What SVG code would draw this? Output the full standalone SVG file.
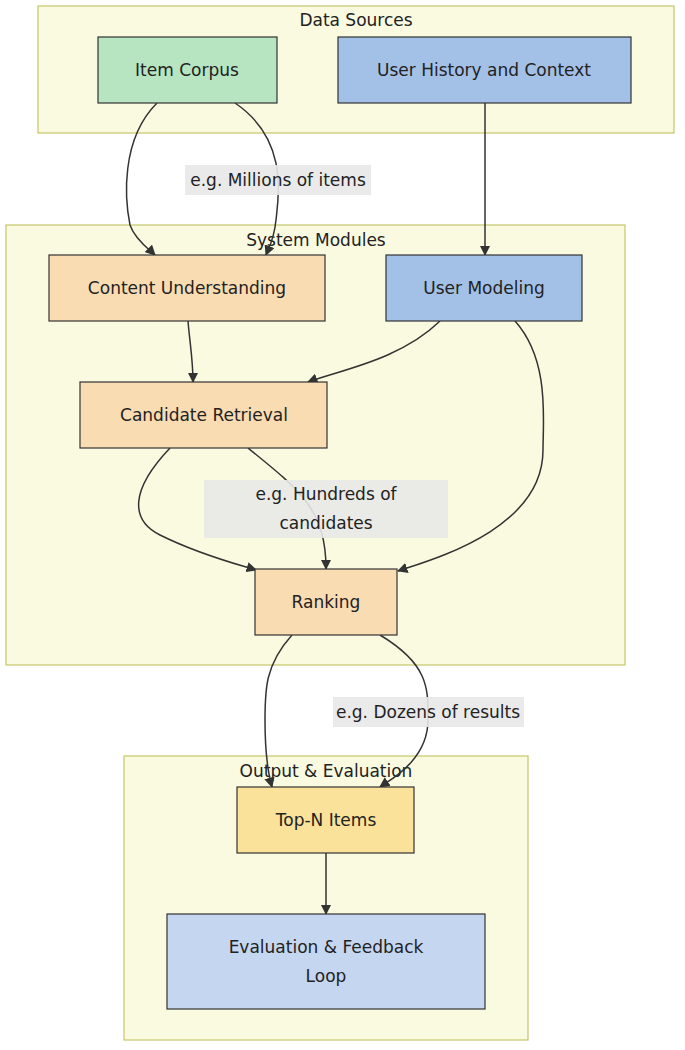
<svg xmlns="http://www.w3.org/2000/svg" width="685" height="1050" viewBox="0 0 685 1050">
<defs>
<style>
.cl{fill:#fafae0;stroke:#c5c56a;stroke-width:1.2}
.n{stroke:#333;stroke-width:1.2}
text{font-family:"DejaVu Sans",sans-serif;font-size:17px;fill:#222;text-anchor:middle;dominant-baseline:central}
.e{fill:none;stroke:#333;stroke-width:1.5;marker-end:url(#a)}
.lb{fill:#e8e8e8;opacity:.9}
</style>
<marker id="a" viewBox="0 0 10 10" refX="9" refY="5" markerWidth="7" markerHeight="7" orient="auto"><path d="M0,0L10,5L0,10z" fill="#333"/></marker>
</defs>
<rect width="685" height="1050" fill="#fff"/>
<g id="clusters">
<rect class="cl" x="38" y="6" width="636" height="127"/><text x="356" y="20">Data Sources</text>
<rect class="cl" x="6" y="225" width="619" height="440"/><text x="316" y="240">System Modules</text>
<rect class="cl" x="124" y="756" width="404" height="284"/><text x="326" y="771">Output &amp; Evaluation</text>
</g>
<g id="connectors">
<path class="e" d="M157,103C120,140 125,200 130,225 C135,240 150,250 155,255"/>
<path class="e" d="M235,103C290,140 278,200 276,220 C274,240 268,250 266,255"/>
<path class="e" d="M485,103L485,255"/>
<path class="e" d="M188,321C190,345 193,360 193,382"/>
<path class="e" d="M440,321C400,360 340,370 308,382"/>
<path class="e" d="M515,321C550,360 543,420 543,450 C543,530 430,560 398,571"/>
<path class="e" d="M170,448C130,490 130,520 160,535 C200,555 240,565 256,570"/>
<path class="e" d="M248,448C300,490 326,510 326,569"/>
<path class="e" d="M292,635C265,665 265,690 265,720 C265,760 270,780 272,787"/>
<path class="e" d="M380,635C430,665 428,690 428,720 C428,760 390,780 380,787"/>
<path class="e" d="M326,853L326,914"/>
<rect class="lb" x="185" y="165" width="186" height="30"/><text x="278" y="180">e.g. Millions of items</text>
<rect class="lb" x="204" y="480" width="244" height="58"/><text x="326" y="494">e.g. Hundreds of</text><text x="326" y="523">candidates</text>
<rect class="lb" x="333" y="697" width="191" height="30"/><text x="428" y="712">e.g. Dozens of results</text>
</g>
<g id="item-corpus"><rect class="n" x="98" y="37" width="179" height="66" fill="#b7e4c1"/><text x="187" y="70">Item Corpus</text></g>
<g id="user-history"><rect class="n" x="338" y="37" width="293" height="66" fill="#a3c1e6"/><text x="484" y="70">User History and Context</text></g>
<g id="content"><rect class="n" x="49" y="255" width="276" height="66" fill="#fadcb3"/><text x="187" y="288">Content Understanding</text></g>
<g id="user-modeling"><rect class="n" x="386" y="255" width="196" height="66" fill="#a3c1e6"/><text x="484" y="288">User Modeling</text></g>
<g id="candidate"><rect class="n" x="80" y="382" width="247" height="66" fill="#fadcb3"/><text x="204" y="415">Candidate Retrieval</text></g>
<g id="ranking"><rect class="n" x="255" y="569" width="142" height="66" fill="#fadcb3"/><text x="326" y="602">Ranking</text></g>
<g id="topn"><rect class="n" x="237" y="787" width="177" height="66" fill="#fbe29a"/><text x="326" y="820">Top-N Items</text></g>
<g id="eval"><rect class="n" x="167" y="914" width="318" height="95" fill="#c5d6f1"/><text x="326" y="947">Evaluation &amp; Feedback</text><text x="326" y="976">Loop</text></g>
</svg>
